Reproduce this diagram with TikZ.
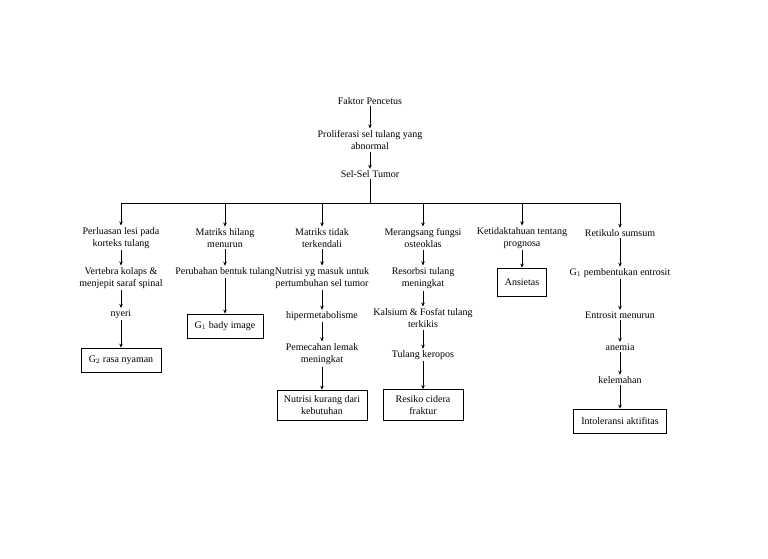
\documentclass[tikz,border=0pt]{standalone}
\usepackage{fontspec}
\setmainfont{Liberation Serif}
\usetikzlibrary{arrows.meta}
\begin{document}
\begin{tikzpicture}[x=1pt,y=-1pt,
  t/.style={font=\fontsize{10}{12.5}\selectfont,align=center,inner sep=1.5pt},
  bx/.style={t,draw,thick,minimum height=24pt,inner sep=3pt},
  ar/.style={-{Stealth[length=4pt,width=3.5pt]},line width=0.6pt}]
\useasboundingbox (0,0) rectangle (768,559);
\node[t] (a) at (370,101) {Faktor Pencetus};
\node[t] (b) at (370,140) {Proliferasi sel tulang yang\\abnormal};
\node[t] (c) at (370,174) {Sel-Sel Tumor};
\draw[ar] (a) -- (b);
\draw[ar] (b) -- (c);
\coordinate (j) at (370,203);
\coordinate (l) at (121,203);
\coordinate (r) at (620,203);
\draw[line width=0.6pt] (c) -- (j);
\draw[line width=0.6pt] (l) -- (r);
% column 1
\node[t] (p1) at (121,238) {Perluasan lesi pada\\korteks tulang};
\node[t] (p2) at (121,278) {Vertebra kolaps \&\\menjepit saraf spinal};
\node[t] (p3) at (121,314) {nyeri};
\node[bx,minimum width=80pt] (p4) at (121,360) {G$_2$ rasa nyaman};
% column 2
\node[t] (q1) at (225,238) {Matriks hilang\\menurun};
\node[t] (q2) at (225,272) {Perubahan bentuk tulang};
\node[bx,minimum width=76pt] (q3) at (225,326) {G$_1$ bady image};
% column 3
\node[t] (s1) at (322,238) {Matriks tidak\\terkendali};
\node[t] (s2) at (322,278) {Nutrisi yg masuk untuk\\pertumbuhan sel tumor};
\node[t] (s3) at (322,316) {hipermetabolisme};
\node[t] (s4) at (322,354) {Pemecahan lemak\\meningkat};
\node[bx,minimum width=90pt,minimum height=30pt] (s5) at (322,405) {Nutrisi kurang dari\\kebutuhan};
% column 4
\node[t] (u1) at (423,238) {Merangsang fungsi\\osteoklas};
\node[t] (u2) at (423,278) {Resorbsi tulang\\meningkat};
\node[t] (u3) at (423,318) {Kalsium \& Fosfat tulang\\terkikis};
\node[t] (u4) at (423,355) {Tulang keropos};
\node[bx,minimum width=80pt,minimum height=31pt] (u5) at (423,405) {Resiko cidera\\fraktur};
% column 5
\node[t] (v1) at (522,238) {Ketidaktahuan tentang\\prognosa};
\node[bx,minimum width=49pt,minimum height=28pt] (v2) at (522,282) {Ansietas};
% column 6
\node[t] (w1) at (620,233) {Retikulo sumsum};
\node[t] (w2) at (620,273) {G$_1$ pembentukan entrosit};
\node[t] (w3) at (620,315) {Entrosit menurun};
\node[t] (w4) at (620,347) {anemia};
\node[t] (w5) at (620,380) {kelemahan};
\node[bx,minimum width=93pt] (w6) at (620,421) {Intoleransi aktifitas};
% branch drops
\foreach \n in {p1,q1,s1,u1,v1,w1} \draw[ar] (\n.north |- j) -- (\n.north);
% chains
\draw[ar] (p1) -- (p2); \draw[ar] (p2) -- (p3); \draw[ar] (p3) -- (p4);
\draw[ar] (q1) -- (q2); \draw[ar] (q2) -- (q3);
\draw[ar] (s1) -- (s2); \draw[ar] (s2) -- (s3); \draw[ar] (s3) -- (s4); \draw[ar] (s4) -- (s5);
\draw[ar] (u1) -- (u2); \draw[ar] (u2) -- (u3); \draw[ar] (u3) -- (u4); \draw[ar] (u4) -- (u5);
\draw[ar] (v1) -- (v2);
\draw[ar] (w1) -- (w2); \draw[ar] (w2) -- (w3); \draw[ar] (w3) -- (w4); \draw[ar] (w4) -- (w5); \draw[ar] (w5) -- (w6);
\end{tikzpicture}
\end{document}
